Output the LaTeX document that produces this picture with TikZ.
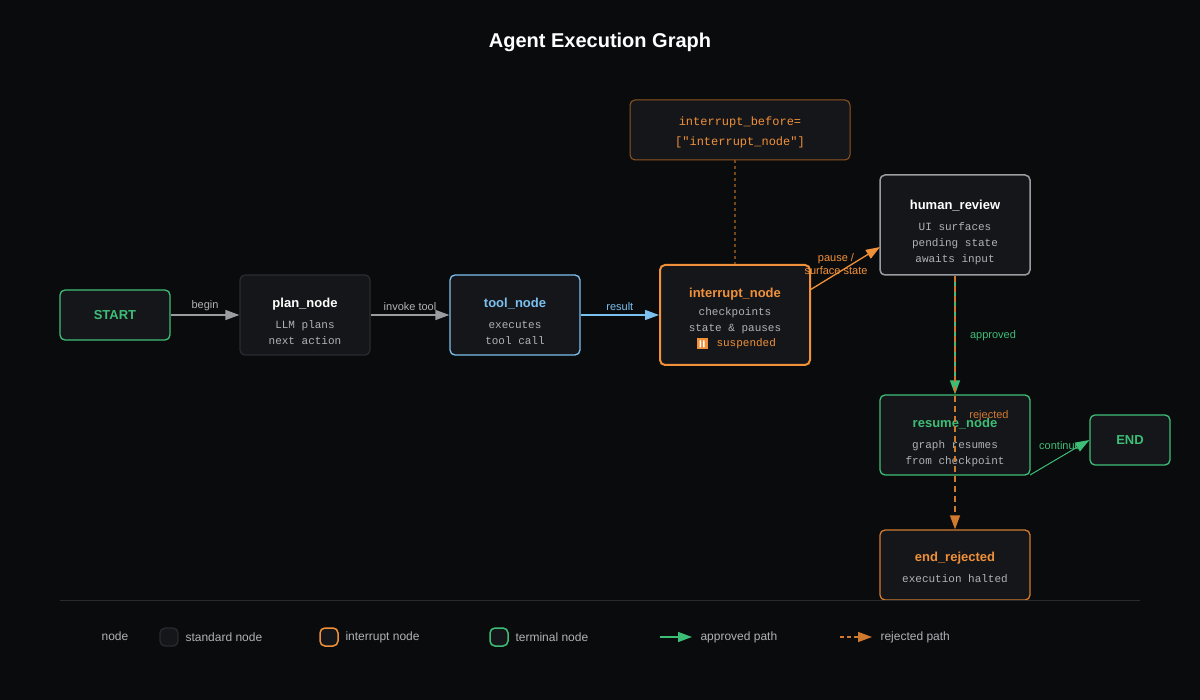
\documentclass[tikz,border=0pt]{standalone}
\usepackage{fontspec}
\setmainfont{Liberation Sans}
\setmonofont{Liberation Mono}
\usetikzlibrary{arrows.meta}
\definecolor{bg}{HTML}{0A0B0D}
\definecolor{nodefill}{HTML}{15161A}
\definecolor{stdb}{HTML}{2A2B30}
\definecolor{grn}{HTML}{3DBE76}
\definecolor{org}{HTML}{F0913A}
\definecolor{dorg}{HTML}{D07A30}
\definecolor{blu}{HTML}{7CC0F0}
\definecolor{gry}{HTML}{9A9CA0}
\definecolor{txt}{HTML}{B0B2B6}
\tikzset{
 box/.style={draw, fill=nodefill, rounded corners=5pt, line width=1.3pt, minimum width=#1, align=center, inner sep=0pt},
 title/.style={font=\bfseries\fontsize{13}{15}\selectfont},
 sub/.style={font=\ttfamily\fontsize{11}{16}\selectfont, text=txt},
 lab/.style={font=\fontsize{11}{12}\selectfont, fill=none},
 arr/.style={line width=1.3pt, -{Triangle[length=14pt,width=10pt]}},
}
\begin{document}
\begin{tikzpicture}[x=1pt,y=-1pt]
\fill[bg] (0,0) rectangle (1200,700);
\useasboundingbox (0,0) rectangle (1200,700);
\node[text=white, font=\bfseries\fontsize{20}{24}\selectfont] (ttl) at (600,42) {Agent Execution Graph};

\node[box=110pt, minimum height=50pt, draw=grn, text=grn, title] (start) at (115,315) {START};
\node[box=130pt, minimum height=80pt, draw=stdb] (plan) at (305,315) {};
\node[title, text=white] at (305,304) {plan\_node};
\node[sub, align=center] at (305,333) {LLM plans\\next action};
\node[box=130pt, minimum height=80pt, draw=blu] (tool) at (515,315) {};
\node[title, text=blu] at (515,304) {tool\_node};
\node[sub, align=center] at (515,333) {executes\\tool call};
\node[box=150pt, minimum height=100pt, draw=org, line width=2pt] (intr) at (735,315) {};
\node[title, text=org] at (735,294) {interrupt\_node};
\node[sub, align=center] at (735,321) {checkpoints\\state \& pauses};
\node[fill=org, minimum size=11pt, inner sep=0pt] (pz) at (702,344) {};
\fill[white] (699.5,340.5) rectangle (701,347.5) (703,340.5) rectangle (704.5,347.5);
\node[font=\ttfamily\fontsize{11}{12}\selectfont, text=org, anchor=west] at (713,344) {suspended};

\node[box=220pt, minimum height=60pt, draw=org!60!black, line width=1pt] (ib) at (740,130) {};
\node[font=\ttfamily\fontsize{12}{20}\selectfont, text=org, align=center] at (740,132) {interrupt\_before=\\{}["interrupt\_node"]};

\node[box=150pt, minimum height=100pt, draw=gry, line width=1.5pt] (hr) at (955,225) {};
\node[title, text=white] at (955,206) {human\_review};
\node[sub, align=center] at (955,244) {UI surfaces\\pending state\\awaits input};

\node[box=150pt, minimum height=80pt, draw=grn] (res) at (955,435) {};
\node[title, text=grn] at (955,424) {resume\_node};
\node[sub, align=center] at (955,454) {graph resumes\\from checkpoint};

\node[box=80pt, minimum height=50pt, draw=grn, text=grn, title] (end) at (1130,440) {END};

\node[box=150pt, minimum height=70pt, draw=dorg] (rej) at (955,565) {};
\node[title, text=org] at (955,558) {end\_rejected};
\node[sub] at (955,579) {execution halted};

\draw[arr, gry] (start) -- node[lab, text=txt, above] {begin} (plan);
\draw[arr, gry] (plan) -- node[lab, text=txt, above] {invoke tool} (tool);
\draw[arr, blu] (tool) -- node[lab, text=blu, above] {result} (intr);
\draw[org!50!black, dashed, dash pattern=on 3pt off 3pt, line width=1.2pt] (ib.south -| intr.north) -- (intr.north);
\coordinate (pa) at (810,290); \coordinate (pb) at (880,247);
\draw[arr, org] (pa) -- (pb);
\node[lab, text=org, align=center, font=\fontsize{11}{13}\selectfont] at (836,264) {pause /\\surface state};
\draw[arr, grn] (hr.south) -- (res.north);
\node[lab, text=grn] at (993,336) {approved};
\draw[arr, dorg, dashed, dash pattern=on 6pt off 4pt] (hr.south) -- (rej.north);
\node[lab, text=dorg] at (989,416) {rejected};
\coordinate (ca) at (1030,475);
\draw[arr, grn, line width=1pt] (ca) -- (end.west);
\node[lab, text=grn] at (1060,446) {continue};

\draw[stdb, line width=0.8pt] (60,600) -- (1140,600);
\node[lab, text=txt, font=\fontsize{12}{14}\selectfont] at (115,636) {node};
\node[box=18pt, minimum height=18pt, draw=stdb, line width=1.2pt] (l1) at (169,637) {};
\node[lab, text=txt, anchor=west, font=\fontsize{12}{14}\selectfont] at (182,637) {standard node};
\node[box=18pt, minimum height=18pt, draw=org, line width=1.5pt] (l2) at (329,637) {};
\node[lab, text=txt, anchor=west, font=\fontsize{12}{14}\selectfont] at (342,637) {interrupt node};
\node[box=18pt, minimum height=18pt, draw=grn, line width=1.5pt] (l3) at (499,637) {};
\node[lab, text=txt, anchor=west, font=\fontsize{12}{14}\selectfont] at (512,637) {terminal node};
\coordinate (a1) at (660,637); \coordinate (a2) at (692,637);
\draw[arr, grn] (a1) -- (a2);
\node[lab, text=txt, anchor=west, font=\fontsize{12}{14}\selectfont] at (697,637) {approved path};
\coordinate (b1) at (840,637); \coordinate (b2) at (872,637);
\draw[arr, dorg, dash pattern=on 4pt off 3pt] (b1) -- (b2);
\node[lab, text=txt, anchor=west, font=\fontsize{12}{14}\selectfont] at (877,637) {rejected path};
\end{tikzpicture}
\end{document}
